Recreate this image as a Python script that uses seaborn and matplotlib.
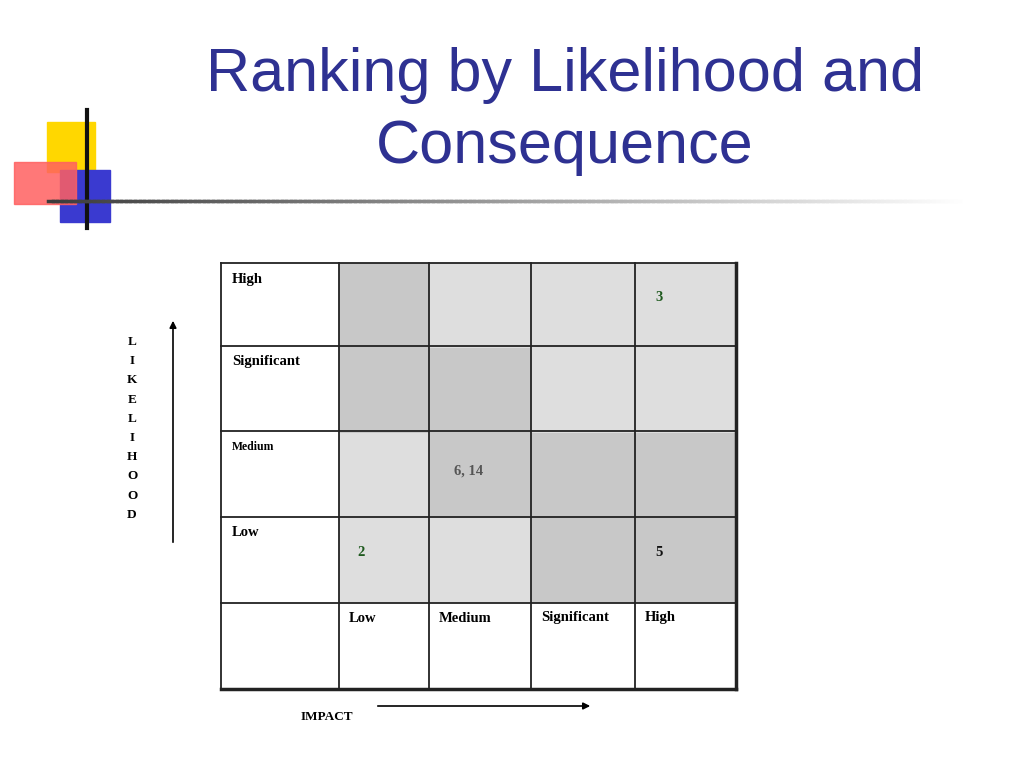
import numpy as np
import pandas as pd
import seaborn as sns
import matplotlib.pyplot as plt
from matplotlib.colors import ListedColormap

likelihood = ["High", "Significant", "Medium", "Low"]
impact = ["Low", "Medium", "Significant", "High"]
# 1 = darker gray zone, 0 = lighter gray zone
zones = [[1, 0, 0, 0],
         [1, 1, 0, 0],
         [0, 1, 1, 1],
         [0, 0, 1, 1]]
risk_labels = [["", "", "", "3"],
               ["", "", "", ""],
               ["", "6, 14", "", ""],
               ["2", "", "", "5"]]
label_colors = {"3": "#1f5a1f", "2": "#1f5a1f", "6, 14": "#555555", "5": "#111111"}

W, H = 1024, 768
fig = plt.figure(figsize=(W / 100, H / 100), dpi=100)
bg = fig.add_axes([0, 0, 1, 1])
bg.set_xlim(0, W)
bg.set_ylim(H, 0)
bg.axis("off")
bg.set_zorder(2)
bg.patch.set_visible(False)

# title
tfont = ["Liberation Sans Narrow", "Liberation Sans"]
bg.text(565, 75, "Ranking by Likelihood and", ha="center", va="center",
        fontsize=44, color="#2e3192", family=tfont)
bg.text(565, 148, "Consequence", ha="center", va="center",
        fontsize=44, color="#2e3192", family=tfont)

# decoration
bg.add_patch(plt.Rectangle((47, 122), 48, 50, color="#ffd700", zorder=1))
bg.add_patch(plt.Rectangle((60, 170), 50, 52, color="#3a3ad0", zorder=1))
bg.add_patch(plt.Rectangle((14, 162), 62, 42, color="#ff6060", alpha=0.85, zorder=2))
bg.plot([87, 87], [110, 228], color="#111111", lw=3, zorder=3)
xs = np.linspace(48, 960, 200)
for i in range(len(xs) - 1):
    g = int(60 + 195 * i / len(xs))
    bg.plot(xs[i:i + 2], [201, 201], color=(g / 255, g / 255, g / 255), lw=2.5, zorder=3)

# shaded cells: one heatmap strip per impact column (columns differ in width)
rows = [263, 346, 431, 517, 603, 689]
cols = [221, 339, 429, 531, 635, 736]
df = pd.DataFrame(zones, index=likelihood, columns=impact)
cmap = ListedColormap(["#dedede", "#c8c8c8"])
for c, name in enumerate(impact):
    xa, xb = cols[c + 1], cols[c + 2]
    hax = fig.add_axes([xa / W, 1 - rows[4] / H, (xb - xa) / W, (rows[4] - rows[0]) / H])
    sns.heatmap(df[[name]], ax=hax, cmap=cmap, cbar=False, vmin=0, vmax=1)
    hax.set_xticks([]); hax.set_yticks([])
    hax.set_xlabel(""); hax.set_ylabel("")
    for r in range(4):
        t = risk_labels[r][c]
        if t:
            dy = 0.4 if r != 2 else 0.45
            hax.text(0.2 if t != "6, 14" else 0.25, r + dy, t, ha="left", va="center",
                     fontsize=10.5, fontweight="bold", color=label_colors[t],
                     family="Liberation Serif")

# table frame
for y in rows:
    bg.plot([cols[0], cols[-1]], [y, y], color="#222222", lw=1.3)
for x in cols:
    bg.plot([x, x], [rows[0], rows[-1]], color="#222222", lw=1.3)
bg.plot([cols[0], cols[-1]], [689, 689], color="#222222", lw=2.5)
bg.plot([cols[-1], cols[-1]], [263, 689], color="#222222", lw=2.5)

for i, name in enumerate(likelihood):
    bg.text(232, rows[i] + 16, name, ha="left", va="center", family="Liberation Serif",
            fontweight="bold", fontsize=8.5 if name == "Medium" else 10.5)
for i, name in enumerate(impact):
    bg.text(cols[i + 1] + 10, 618, name, ha="left", va="center", family="Liberation Serif",
            fontweight="bold", fontsize=10.5)

# axis arrows
bg.annotate("", xy=(173, 318), xytext=(173, 545),
            arrowprops=dict(arrowstyle="-|>", color="black", lw=1.2))
for i, ch in enumerate("LIKELIHOOD"):
    bg.text(132, 342 + i * 19.2, ch, ha="center", va="center", fontsize=9.5,
            fontweight="bold", family="Liberation Serif")
bg.annotate("", xy=(593, 706), xytext=(375, 706),
            arrowprops=dict(arrowstyle="-|>", color="black", lw=1.2))
bg.text(327, 717, "IMPACT", ha="center", va="center", fontsize=9.5,
        fontweight="bold", family="Liberation Serif")

fig.savefig("out.png", dpi=100)
